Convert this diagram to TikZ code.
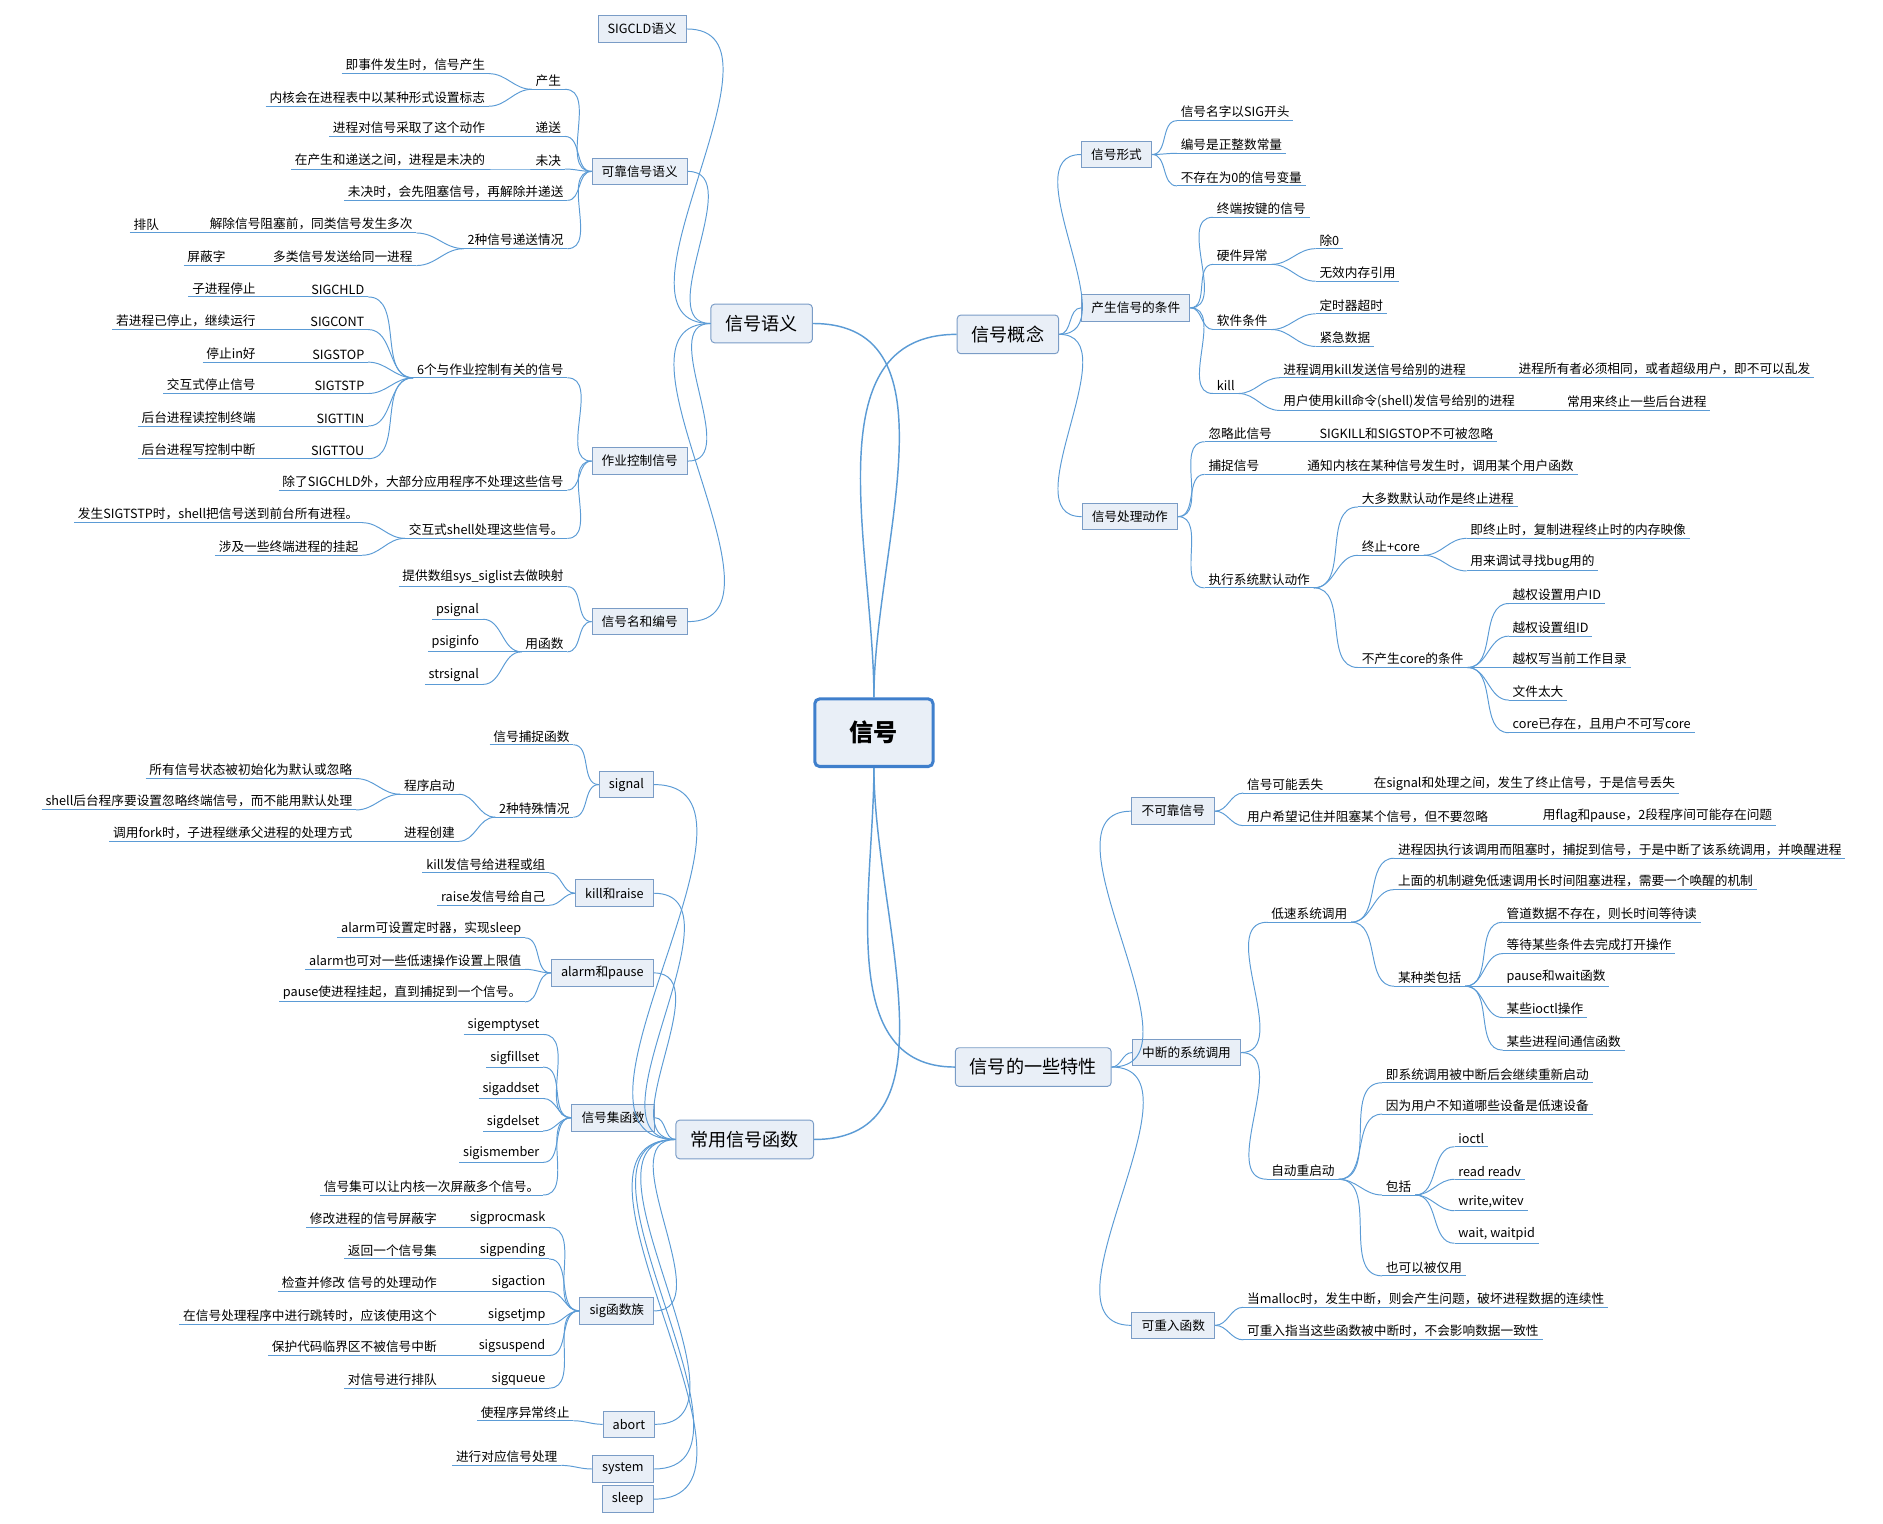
\documentclass[tikz,border=0pt]{standalone}
\usepackage{fontspec}
\setmainfont{Noto Sans CJK SC}
\definecolor{lineblue}{HTML}{5B9BD5}
\definecolor{boxfill}{HTML}{E9EFF7}
\definecolor{boxdraw}{HTML}{7A9CC6}
\definecolor{rootdraw}{HTML}{3F7FCC}
\tikzset{
  conn/.style={draw=lineblue,line width=0.8pt},
  uline/.style={inner xsep=3pt,inner ysep=2pt,font=\fontsize{10.5}{12}\selectfont,
    append after command={(\tikzlastnode.south west) edge[conn] (\tikzlastnode.south east)}},
  rleaf/.style={uline,anchor=south west},
  lleaf/.style={uline,anchor=south east},
  subbox/.style={draw=boxdraw,fill=boxfill,thick,minimum height=22pt,inner xsep=8pt,
    font=\fontsize{10.5}{12}\selectfont},
  mainbox/.style={draw=boxdraw,fill=boxfill,thick,rounded corners=3pt,minimum height=32pt,
    inner xsep=12pt,font=\fontsize{15}{17}\selectfont},
  rootbox/.style={draw=rootdraw,fill=boxfill,line width=2.5pt,rounded corners=4pt,
    minimum width=98pt,minimum height=56pt,font=\fontsize{20}{22}\selectfont\bfseries}
}
\begin{document}
\begin{tikzpicture}[x=1pt,y=-1pt]
\useasboundingbox (0,0) rectangle (1560,1262);

% root and main branches
\node[rootbox] (root) at (724,607) {信号};
\node[mainbox] (gn) at (835,277) {信号概念};
\node[mainbox] (tx) at (856,884) {信号的一些特性};
\node[mainbox] (yy) at (631,268) {信号语义};
\node[mainbox] (hs) at (617,944) {常用信号函数};
\draw[conn,line width=1.2pt] (root.north) to[out=90,in=180] (gn.west);
\draw[conn,line width=1.2pt] (root.north) to[out=90,in=0] (yy.east);
\draw[conn,line width=1.2pt] (root.south) to[out=-90,in=180] (tx.west);
\draw[conn,line width=1.2pt] (root.south) to[out=-90,in=0] (hs.east);

% 信号概念
\node[subbox] (xs) at (925,128) {信号形式};
\node[subbox] (tj) at (941,255) {产生信号的条件};
\node[subbox] (dz) at (936,428) {信号处理动作};
\foreach \c in {xs,tj,dz} \draw[conn] (gn.east) to[out=0,in=180] (\c.west);

\node[rleaf] (xs1) at (975,100) {信号名字以SIG开头};
\node[rleaf] (xs2) at (975,127) {编号是正整数常量};
\node[rleaf] (xs3) at (975,154) {不存在为0的信号变量};
\foreach \c in {xs1,xs2,xs3} \draw[conn] (xs.east) to[out=0,in=180] (\c.south west);

\node[rleaf] (tj1) at (1005,180) {终端按键的信号};
\node[rleaf] (tj2) at (1005,219) {硬件异常};
\node[rleaf] (tj3) at (1005,273) {软件条件};
\node[rleaf] (tj4) at (1005,326) {kill};
\foreach \c in {tj1,tj2,tj3,tj4} \draw[conn] (tj.east) to[out=0,in=180] (\c.south west);
\node[rleaf] (tj21) at (1090,206) {除0};
\node[rleaf] (tj22) at (1090,233) {无效内存引用};
\node[rleaf] (tj31) at (1090,260) {定时器超时};
\node[rleaf] (tj32) at (1090,287) {紧急数据};
\node[rleaf] (tj41) at (1060,313) {进程调用kill发送信号给别的进程};
\node[rleaf] (tj42) at (1060,340) {用户使用kill命令(shell)发信号给别的进程};
\node[rleaf] (tj411) at (1255,313) {进程所有者必须相同，或者超级用户，即不可以乱发};
\node[rleaf] (tj421) at (1295,340) {常用来终止一些后台进程};
\foreach \p/\c in {tj2/tj21,tj2/tj22,tj3/tj31,tj3/tj32,tj4/tj41,tj4/tj42,tj41/tj411,tj42/tj421}
  \draw[conn] (\p.south east) to[out=0,in=180] (\c.south west);

\node[rleaf] (dz1) at (998,366) {忽略此信号};
\node[rleaf] (dz2) at (998,393) {捕捉信号};
\node[rleaf] (dz3) at (998,487) {执行系统默认动作};
\foreach \c in {dz1,dz2,dz3} \draw[conn] (dz.east) to[out=0,in=180] (\c.south west);
\node[rleaf] (dz11) at (1090,366) {SIGKILL和SIGSTOP不可被忽略};
\node[rleaf] (dz21) at (1080,393) {通知内核在某种信号发生时，调用某个用户函数};
\node[rleaf] (dz31) at (1125,420) {大多数默认动作是终止进程};
\node[rleaf] (dz32) at (1125,460) {终止+core};
\node[rleaf] (dz33) at (1125,553) {不产生core的条件};
\node[rleaf] (dz321) at (1215,446) {即终止时，复制进程终止时的内存映像};
\node[rleaf] (dz322) at (1215,473) {用来调试寻找bug用的};
\node[rleaf] (dz331) at (1250,500) {越权设置用户ID};
\node[rleaf] (dz332) at (1250,527) {越权设置组ID};
\node[rleaf] (dz333) at (1250,553) {越权写当前工作目录};
\node[rleaf] (dz334) at (1250,580) {文件太大};
\node[rleaf] (dz335) at (1250,607) {core已存在，且用户不可写core};
\foreach \p/\c in {dz1/dz11,dz2/dz21,dz3/dz31,dz3/dz32,dz3/dz33,dz32/dz321,dz32/dz322,
  dz33/dz331,dz33/dz332,dz33/dz333,dz33/dz334,dz33/dz335}
  \draw[conn] (\p.south east) to[out=0,in=180] (\c.south west);

% 信号的一些特性
\node[subbox] (bk) at (972,672) {不可靠信号};
\node[subbox] (zd) at (983,872) {中断的系统调用};
\node[subbox] (cr) at (972,1098) {可重入函数};
\foreach \c in {bk,zd,cr} \draw[conn] (tx.east) to[out=0,in=180] (\c.west);

\node[rleaf] (bk1) at (1030,657) {信号可能丢失};
\node[rleaf] (bk2) at (1030,684) {用户希望记住并阻塞某个信号，但不要忽略};
\foreach \c in {bk1,bk2} \draw[conn] (bk.east) to[out=0,in=180] (\c.south west);
\node[rleaf] (bk11) at (1135,657) {在signal和处理之间，发生了终止信号，于是信号丢失};
\node[rleaf] (bk21) at (1275,684) {用flag和pause，2段程序间可能存在问题};
\foreach \p/\c in {bk1/bk11,bk2/bk21} \draw[conn] (\p.south east) to[out=0,in=180] (\c.south west);

\node[rleaf] (zd1) at (1050,764) {低速系统调用};
\node[rleaf] (zd2) at (1050,977) {自动重启动};
\foreach \c in {zd1,zd2} \draw[conn] (zd.east) to[out=0,in=180] (\c.south west);
\node[rleaf] (zd11) at (1155,711) {进程因执行该调用而阻塞时，捕捉到信号，于是中断了该系统调用，并唤醒进程};
\node[rleaf] (zd12) at (1155,737) {上面的机制避免低速调用长时间阻塞进程，需要一个唤醒的机制};
\node[rleaf] (zd13) at (1155,817) {某种类包括};
\node[rleaf] (zd131) at (1245,764) {管道数据不存在，则长时间等待读};
\node[rleaf] (zd132) at (1245,790) {等待某些条件去完成打开操作};
\node[rleaf] (zd133) at (1245,817) {pause和wait函数};
\node[rleaf] (zd134) at (1245,843) {某些ioctl操作};
\node[rleaf] (zd135) at (1245,870) {某些进程间通信函数};
\node[rleaf] (zd21) at (1145,897) {即系统调用被中断后会继续重新启动};
\node[rleaf] (zd22) at (1145,923) {因为用户不知道哪些设备是低速设备};
\node[rleaf] (zd23) at (1145,990) {包括};
\node[rleaf] (zd24) at (1145,1057) {也可以被仅用};
\node[rleaf] (zd231) at (1205,950) {ioctl};
\node[rleaf] (zd232) at (1205,977) {read readv};
\node[rleaf] (zd233) at (1205,1003) {write,witev};
\node[rleaf] (zd234) at (1205,1030) {wait, waitpid};
\foreach \p/\c in {zd1/zd11,zd1/zd12,zd1/zd13,zd13/zd131,zd13/zd132,zd13/zd133,zd13/zd134,zd13/zd135,
  zd2/zd21,zd2/zd22,zd2/zd23,zd2/zd24,zd23/zd231,zd23/zd232,zd23/zd233,zd23/zd234}
  \draw[conn] (\p.south east) to[out=0,in=180] (\c.south west);

\node[rleaf] (cr1) at (1030,1083) {当malloc时，发生中断，则会产生问题，破坏进程数据的连续性};
\node[rleaf] (cr2) at (1030,1110) {可重入指当这些函数被中断时，不会影响数据一致性};
\foreach \c in {cr1,cr2} \draw[conn] (cr.east) to[out=0,in=180] (\c.south west);

% 信号语义
\node[subbox] (sigcld) at (532,24) {SIGCLD语义};
\node[subbox] (kk) at (530,142) {可靠信号语义};
\node[subbox] (zy) at (530,382) {作业控制信号};
\node[subbox] (mh) at (530,515) {信号名和编号};
\foreach \c in {sigcld,kk,zy,mh} \draw[conn] (yy.west) to[out=180,in=0] (\c.east);

\node[lleaf] (kk1) at (468,74) {产生};
\node[lleaf] (kk2) at (468,113) {递送};
\node[lleaf] (kk3) at (468,140) {未决};
\node[lleaf] (kk4) at (470,166) {未决时，会先阻塞信号，再解除并递送};
\node[lleaf] (kk5) at (470,206) {2种信号递送情况};
\foreach \c in {kk1,kk2,kk3,kk4,kk5} \draw[conn] (kk.west) to[out=180,in=0] (\c.south east);
\node[lleaf] (kk11) at (405,61) {即事件发生时，信号产生};
\node[lleaf] (kk12) at (405,88) {内核会在进程表中以某种形式设置标志};
\node[lleaf] (kk21) at (405,113) {进程对信号采取了这个动作};
\node[lleaf] (kk31) at (405,140) {在产生和递送之间，进程是未决的};
\node[lleaf] (kk51) at (345,193) {解除信号阻塞前，同类信号发生多次};
\node[lleaf] (kk52) at (345,220) {多类信号发送给同一进程};
\node[lleaf] (kk511) at (135,193) {排队};
\node[lleaf] (kk521) at (190,220) {屏蔽字};
\foreach \p/\c in {kk1/kk11,kk1/kk12,kk2/kk21,kk3/kk31,kk5/kk51,kk5/kk52,kk51/kk511,kk52/kk521}
  \draw[conn] (\p.south west) to[out=180,in=0] (\c.south east);

\node[lleaf] (zy1) at (470,313) {6个与作业控制有关的信号};
\node[lleaf] (zy2) at (470,406) {除了SIGCHLD外，大部分应用程序不处理这些信号};
\node[lleaf] (zy3) at (470,446) {交互式shell处理这些信号。};
\foreach \c in {zy1,zy2,zy3} \draw[conn] (zy.west) to[out=180,in=0] (\c.south east);
\foreach \n/\y/\s/\t in {1/246/SIGCHLD/子进程停止,2/273/SIGCONT/若进程已停止，继续运行,
  3/300/SIGSTOP/停止in好,4/326/SIGTSTP/交互式停止信号,5/353/SIGTTIN/后台进程读控制终端,
  6/380/SIGTTOU/后台进程写控制中断}{
  \node[lleaf] (zy1\n) at (305,\y) {\s};
  \node[lleaf] (zy1\n a) at (215,\y) {\t};
  \draw[conn] (zy1.south west) to[out=180,in=0] (zy1\n.south east);
  \draw[conn] (zy1\n.south west) to[out=180,in=0] (zy1\n a.south east);
}
\node[lleaf] (zy31) at (300,433) {发生SIGTSTP时，shell把信号送到前台所有进程。};
\node[lleaf] (zy32) at (300,460) {涉及一些终端进程的挂起};
\foreach \c in {zy31,zy32} \draw[conn] (zy3.south west) to[out=180,in=0] (\c.south east);

\node[lleaf] (mh1) at (470,486) {提供数组sys\_siglist去做映射};
\node[lleaf] (mh2) at (470,540) {用函数};
\foreach \c in {mh1,mh2} \draw[conn] (mh.west) to[out=180,in=0] (\c.south east);
\node[lleaf] (mh21) at (400,513) {psignal};
\node[lleaf] (mh22) at (400,540) {psiginfo};
\node[lleaf] (mh23) at (400,567) {strsignal};
\foreach \c in {mh21,mh22,mh23} \draw[conn] (mh2.south west) to[out=180,in=0] (\c.south east);

% 常用信号函数
\node[subbox] (sg) at (519,650) {signal};
\node[subbox] (kr) at (509,740) {kill和raise};
\node[subbox] (ap) at (499,806) {alarm和pause};
\node[subbox] (jh) at (508,926) {信号集函数};
\node[subbox] (zu) at (511,1086) {sig函数族};
\node[subbox] (ab) at (521,1180) {abort};
\node[subbox] (sy) at (516,1217) {system};
\node[subbox] (sl) at (520,1242) {sleep};
\foreach \c in {sg,kr,ap,jh,zu,ab,sy,sl} \draw[conn] (hs.west) to[out=180,in=0] (\c.east);

\node[lleaf] (sg1) at (475,617) {信号捕捉函数};
\node[lleaf] (sg2) at (475,677) {2种特殊情况};
\foreach \c in {sg1,sg2} \draw[conn] (sg.west) to[out=180,in=0] (\c.south east);
\node[lleaf] (sg21) at (380,658) {程序启动};
\node[lleaf] (sg22) at (380,697) {进程创建};
\node[lleaf] (sg211) at (295,645) {所有信号状态被初始化为默认或忽略};
\node[lleaf] (sg212) at (295,671) {shell后台程序要设置忽略终端信号，而不能用默认处理};
\node[lleaf] (sg221) at (295,697) {调用fork时，子进程继承父进程的处理方式};
\foreach \p/\c in {sg2/sg21,sg2/sg22,sg21/sg211,sg21/sg212,sg22/sg221}
  \draw[conn] (\p.south west) to[out=180,in=0] (\c.south east);

\node[lleaf] (kr1) at (455,723) {kill发信号给进程或组};
\node[lleaf] (kr2) at (455,750) {raise发信号给自己};
\foreach \c in {kr1,kr2} \draw[conn] (kr.west) to[out=180,in=0] (\c.south east);

\node[lleaf] (ap1) at (435,777) {alarm可设置定时器，实现sleep};
\node[lleaf] (ap2) at (435,803) {alarm也可对一些低速操作设置上限值};
\node[lleaf] (ap3) at (435,830) {pause使进程挂起，直到捕捉到一个信号。};
\foreach \c in {ap1,ap2,ap3} \draw[conn] (ap.west) to[out=180,in=0] (\c.south east);

\node[lleaf] (jh1) at (450,857) {sigemptyset};
\node[lleaf] (jh2) at (450,884) {sigfillset};
\node[lleaf] (jh3) at (450,910) {sigaddset};
\node[lleaf] (jh4) at (450,937) {sigdelset};
\node[lleaf] (jh5) at (450,963) {sigismember};
\node[lleaf] (jh6) at (450,990) {信号集可以让内核一次屏蔽多个信号。};
\foreach \c in {jh1,jh2,jh3,jh4,jh5,jh6} \draw[conn] (jh.west) to[out=180,in=0] (\c.south east);

\foreach \n/\y/\s/\t in {1/1017/sigprocmask/修改进程的信号屏蔽字,2/1043/sigpending/返回一个信号集,
  3/1070/sigaction/检查并修改 信号的处理动作,4/1097/sigsetjmp/在信号处理程序中进行跳转时，应该使用这个,
  5/1123/sigsuspend/保护代码临界区不被信号中断,6/1150/sigqueue/对信号进行排队}{
  \node[lleaf] (zu\n) at (455,\y) {\s};
  \node[lleaf] (zu\n a) at (365,\y) {\t};
  \draw[conn] (zu.west) to[out=180,in=0] (zu\n.south east);
  \draw[conn] (zu\n.south west) to[out=180,in=0] (zu\n a.south east);
}

\node[lleaf] (ab1) at (475,1177) {使程序异常终止};
\draw[conn] (ab.west) to[out=180,in=0] (ab1.south east);
\node[lleaf] (sy1) at (465,1214) {进行对应信号处理};
\draw[conn] (sy.west) to[out=180,in=0] (sy1.south east);
\end{tikzpicture}
\end{document}
